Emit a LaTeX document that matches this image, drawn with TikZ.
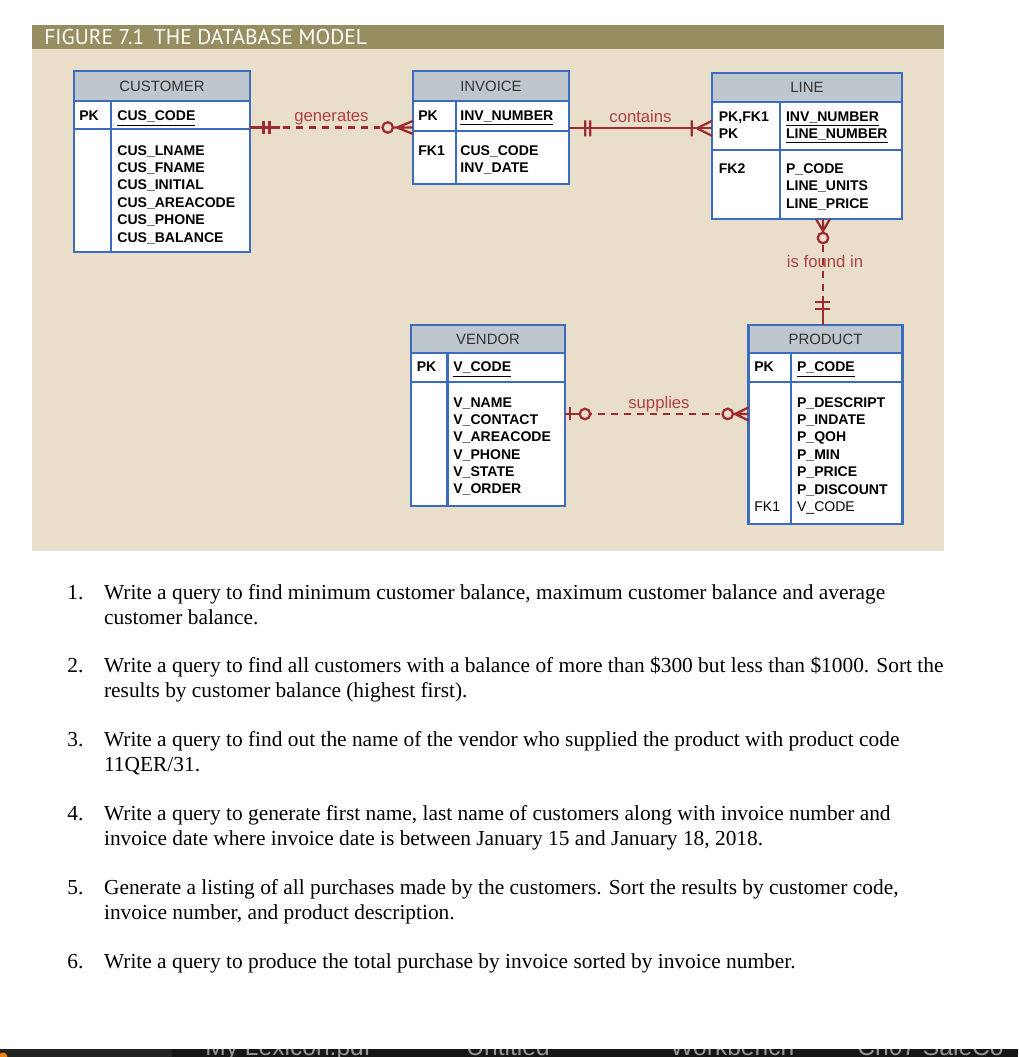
\documentclass[tikz,border=0pt]{standalone}
\usepackage{fontspec}
\setmainfont{Liberation Serif}
\setsansfont{Liberation Sans}
\newfontfamily\titlefont{PT Sans}
\usetikzlibrary{positioning}
\definecolor{paper}{RGB}{233,222,201}
\definecolor{titleolive}{RGB}{150,142,96}
\definecolor{headgray}{RGB}{190,199,205}
\definecolor{tblue}{RGB}{60,108,192}
\definecolor{relred}{RGB}{158,44,46}
\definecolor{labelred}{RGB}{172,66,66}
\definecolor{barblack}{RGB}{22,22,22}
\definecolor{barleft}{RGB}{34,34,34}
\definecolor{bartext}{RGB}{150,150,150}
\tikzset{
 thead/.style={
 rectangle,
 draw=tblue,
 fill=headgray,
 line width=1.2pt,
 inner sep=0pt,
 outer sep=0pt,
 anchor=north west,
 text=black!80,
 font=\sffamily\fontsize{8.5}{10}\selectfont
 },
 trow/.style={
 rectangle,
 draw=tblue,
 fill=white,
 line width=1.2pt,
 inner sep=0pt,
 outer sep=0pt
 },
 tsep/.style={draw=tblue, line width=1.2pt},
 keytxt/.style={
 anchor=north west,
 inner sep=0pt,
 align=left,
 font=\sffamily\bfseries\fontsize{8}{9.9}\selectfont
 },
 relline/.style={draw=relred, line width=1.3pt},
 reldash/.style={relline, dash pattern=on 0.14cm off 0.12cm},
 rellabel/.style={
 anchor=base,
 inner sep=0pt,
 text=labelred,
 font=\sffamily\fontsize{9.5}{11}\selectfont
 },
 qnum/.style={anchor=base west, inner sep=0pt, font=\fontsize{12.17}{14.23}\selectfont},
 qtext/.style={inner sep=0pt, align=left, font=\fontsize{12.17}{14.23}\selectfont},
 bartxt/.style={anchor=base west, inner sep=0pt, text=bartext, font=\sffamily\fontsize{14}{16}\selectfont}
}
\begin{document}
\begin{tikzpicture}[x=0.02cm, y=-0.02cm]
 \useasboundingbox (0,0) rectangle (1018,1057);
 \fill[white] (0,0) rectangle (1018,1057);
 \fill[paper] (32,49) rectangle (944,551);
 \fill[titleolive] (32,25) rectangle (944,49);
 \node[anchor=base west, inner sep=0pt, text=white, font=\titlefont\fontsize{12.2}{14}\selectfont] (title) at (44,44.3) {FIGURE 7.1\hspace{0.45em}THE DATABASE MODEL};

 % CUSTOMER
 \node[thead, minimum width=3.52cm, minimum height=0.6cm] (cust) at (74,71) {CUSTOMER};
 \node[trow, minimum width=3.52cm, minimum height=0.56cm, below=0pt of cust] (cust_key) {};
 \node[trow, minimum width=3.52cm, minimum height=2.46cm, below=0pt of cust_key] (cust_attr) {};
 \draw[tsep] ([xshift=0.74cm]cust_key.north west) -- ([xshift=0.74cm]cust_attr.south west);
 \node[keytxt] (cust_pk) at (79,110.7) {PK};
 \node[keytxt] (cust_id) at (117,110.7) {\underline{CUS\_CODE}};
 \node[keytxt] (cust_list) at (117,145) {CUS\_LNAME\\CUS\_FNAME\\CUS\_INITIAL\\CUS\_AREACODE\\CUS\_PHONE\\CUS\_BALANCE};

 % INVOICE
 \node[thead, minimum width=3.12cm, minimum height=0.6cm] (inv) at (413,71) {INVOICE};
 \node[trow, minimum width=3.12cm, minimum height=0.6cm, below=0pt of inv] (inv_key) {};
 \node[trow, minimum width=3.12cm, minimum height=1.06cm, below=0pt of inv_key] (inv_attr) {};
 \draw[tsep] ([xshift=0.86cm]inv_key.north west) -- ([xshift=0.86cm]inv_attr.south west);
 \node[keytxt] (inv_pk) at (418,110) {PK};
 \node[keytxt] (inv_id) at (460,110) {\underline{INV\_NUMBER}};
 \node[keytxt] (inv_fk) at (418,145) {FK1};
 \node[keytxt] (inv_list) at (460,145) {CUS\_CODE\\INV\_DATE};

 % LINE
 \node[thead, minimum width=3.8cm, minimum height=0.58cm] (line) at (712,73) {LINE};
 \node[trow, minimum width=3.8cm, minimum height=0.96cm, below=0pt of line] (line_key) {};
 \node[trow, minimum width=3.8cm, minimum height=1.38cm, below=0pt of line_key] (line_attr) {};
 \draw[tsep] ([xshift=1.36cm]line_key.north west) -- ([xshift=1.36cm]line_attr.south west);
 \node[keytxt] (line_pk) at (718.5,111) {PK,FK1\\PK};
 \node[keytxt] (line_id) at (785.7,111) {\underline{INV\_NUMBER}\\\underline{LINE\_NUMBER}};
 \node[keytxt] (line_fk) at (718.5,163.3) {FK2};
 \node[keytxt] (line_list) at (785.7,163.3) {P\_CODE\\LINE\_UNITS\\LINE\_PRICE};

 % VENDOR
 \node[thead, minimum width=3.08cm, minimum height=0.56cm] (ven) at (411,325) {VENDOR};
 \node[trow, minimum width=3.08cm, minimum height=0.58cm, below=0pt of ven] (ven_key) {};
 \node[trow, minimum width=3.08cm, minimum height=2.48cm, below=0pt of ven_key] (ven_attr) {};
 \draw[tsep] ([xshift=0.73cm]ven_key.north west) -- ([xshift=0.73cm]ven_attr.south west);
 \node[keytxt] (ven_pk) at (416.5,361.7) {PK};
 \node[keytxt] (ven_id) at (453,361.7) {\underline{V\_CODE}};
 \node[keytxt] (ven_list) at (453,397) {V\_NAME\\V\_CONTACT\\V\_AREACODE\\V\_PHONE\\V\_STATE\\V\_ORDER};

 % PRODUCT
 \node[thead, minimum width=3.08cm, minimum height=0.56cm] (prod) at (748.5,325) {PRODUCT};
 \node[trow, minimum width=3.08cm, minimum height=0.58cm, below=0pt of prod] (prod_key) {};
 \node[trow, minimum width=3.08cm, minimum height=2.84cm, below=0pt of prod_key] (prod_attr) {};
 \draw[tsep] ([xshift=0.846cm]prod_key.north west) -- ([xshift=0.846cm]prod_attr.south west);
 \node[keytxt] (prod_pk) at (754,361.7) {PK};
 \node[keytxt] (prod_id) at (796.7,361.7) {\underline{P\_CODE}};
 \node[keytxt] (prod_list) at (796.7,397) {P\_DESCRIPT\\P\_INDATE\\P\_QOH\\P\_MIN\\P\_PRICE\\P\_DISCOUNT\\{\mdseries V\_CODE}};
 \node[keytxt] (prod_fk) at (754,501.4) {\mdseries FK1};

 % generates
 \coordinate (gen_a) at ([yshift=0.03cm]cust_key.south east);
 \coordinate (gen_b) at (gen_a -| inv_key.west);
 \draw[relline] (gen_a) -- ++(30,0)
 (gen_a) ++(13.5,-6.5) -- ++(0,13)
 (gen_a) ++(19.5,-6.5) -- ++(0,13);
 \draw[reldash] (gen_a) ++(33,0) -- node[rellabel, yshift=3.2pt] {generates} ++(97,0);
 \draw[relline] (gen_b) ++(-19.3,0) -- (gen_b)
 (gen_b) ++(-16,0) -- ++(16,-6.5)
 (gen_b) ++(-16,0) -- ++(16,6.5);
 \draw[relline, fill=paper] (gen_b) ++(-25.3,0) circle[radius=0.105cm];

 % contains
 \coordinate (con_a) at ([yshift=0.054cm]inv_key.south east);
 \coordinate (con_b) at (con_a -| line_key.west);
 \draw[relline] (con_a) -- node[rellabel, yshift=3.2pt] {contains} (con_b);
 \draw[relline] (con_a) ++(16.3,-8) -- ++(0,16)
 (con_a) ++(21.3,-8) -- ++(0,16)
 (con_b) ++(-20.3,-8) -- ++(0,16)
 (con_b) ++(-15,0) -- ++(15,-7.5)
 (con_b) ++(-15,0) -- ++(15,7.5);

 % supplies
 \coordinate (sup_a) at ([yshift=-0.64cm]ven_attr.north east);
 \coordinate (sup_b) at (sup_a -| prod_attr.west);
 \draw[relline] (sup_a) -- ++(27,0)
 (sup_a) ++(5,-6.5) -- ++(0,13);
 \draw[relline, fill=paper] (sup_a) ++(20,0) circle[radius=0.105cm];
 \draw[reldash] (sup_a) ++(33,0) -- node[rellabel, yshift=3.2pt] {supplies} ++(122,0);
 \draw[relline] (sup_b) ++(-15.5,0) -- (sup_b)
 (sup_b) ++(-13.5,0) -- ++(13.5,-6.5)
 (sup_b) ++(-13.5,0) -- ++(13.5,6.5);
 \draw[relline, fill=paper] (sup_b) ++(-20.8,0) circle[radius=0.105cm];

 % is found in
 \coordinate (fnd_a) at ([xshift=0.32cm]line_attr.south);
 \coordinate (fnd_b) at (fnd_a |- prod.north);
 \draw[relline] (fnd_a) -- ++(0,13)
 (fnd_a) ++(-7,0) -- ++(7,12)
 (fnd_a) ++(7,0) -- ++(-7,12);
 \draw[relline, fill=paper] (fnd_a) ++(0,19) circle[radius=0.105cm];
 \draw[reldash] (fnd_a) ++(0,26) -- ++(0,51);
 \draw[relline] (fnd_b) -- ++(0,-29)
 (fnd_b) ++(-7.5,-23) -- ++(15,0)
 (fnd_b) ++(-7.5,-16) -- ++(15,0);
 \node[rellabel] (found) at (825,268) {is found in};

 % questions
 \node[qnum] (q1n) at (67,599) {\strut 1.};
 \node[qtext, right=0.4cm of q1n.north east, anchor=north west] (q1) {\strut Write a query to find minimum customer balance, maximum customer balance and average\\customer balance.};
 \node[qnum] (q2n) at (67,672.8) {\strut 2.};
 \node[qtext, right=0.4cm of q2n.north east, anchor=north west] (q2) {\strut Write a query to find all customers with a balance of more than \$300 but less than \$1000. Sort the\\results by customer balance (highest first).};
 \node[qnum] (q3n) at (67,746.6) {\strut 3.};
 \node[qtext, right=0.4cm of q3n.north east, anchor=north west] (q3) {\strut Write a query to find out the name of the vendor who supplied the product with product code\\11QER/31.};
 \node[qnum] (q4n) at (67,820.4) {\strut 4.};
 \node[qtext, right=0.4cm of q4n.north east, anchor=north west] (q4) {\strut Write a query to generate first name, last name of customers along with invoice number and\\invoice date where invoice date is between January 15 and January 18, 2018.};
 \node[qnum] (q5n) at (67,894.2) {\strut 5.};
 \node[qtext, right=0.4cm of q5n.north east, anchor=north west] (q5) {\strut Generate a listing of all purchases made by the customers. Sort the results by customer code,\\invoice number, and product description.};
 \node[qnum] (q6n) at (67,968) {\strut 6.};
 \node[qtext, right=0.4cm of q6n.north east, anchor=north west] (q6) {\strut Write a query to produce the total purchase by invoice sorted by invoice number.};

 % bottom bar
 \fill[barblack] (0,1049) rectangle (1018,1057);
 \fill[barleft] (0,1049) rectangle (172,1057);
 \begin{scope}
 \clip (0,1049) rectangle (1018,1057);
 \fill[orange!80!brown] (3,1057) circle[radius=0.09cm];
 \node[bartxt] (tab1) at (205,1055) {My Lexicon.pdf};
 \node[bartxt] (tab2) at (466,1055) {Untitled};
 \node[bartxt] (tab3) at (670,1055) {Workbench};
 \node[bartxt] (tab4) at (857,1055) {Ch07 SaleCo};
 \end{scope}
 \fill[white] (0,1000) rectangle (1018,1049);
\end{tikzpicture}
\end{document}
